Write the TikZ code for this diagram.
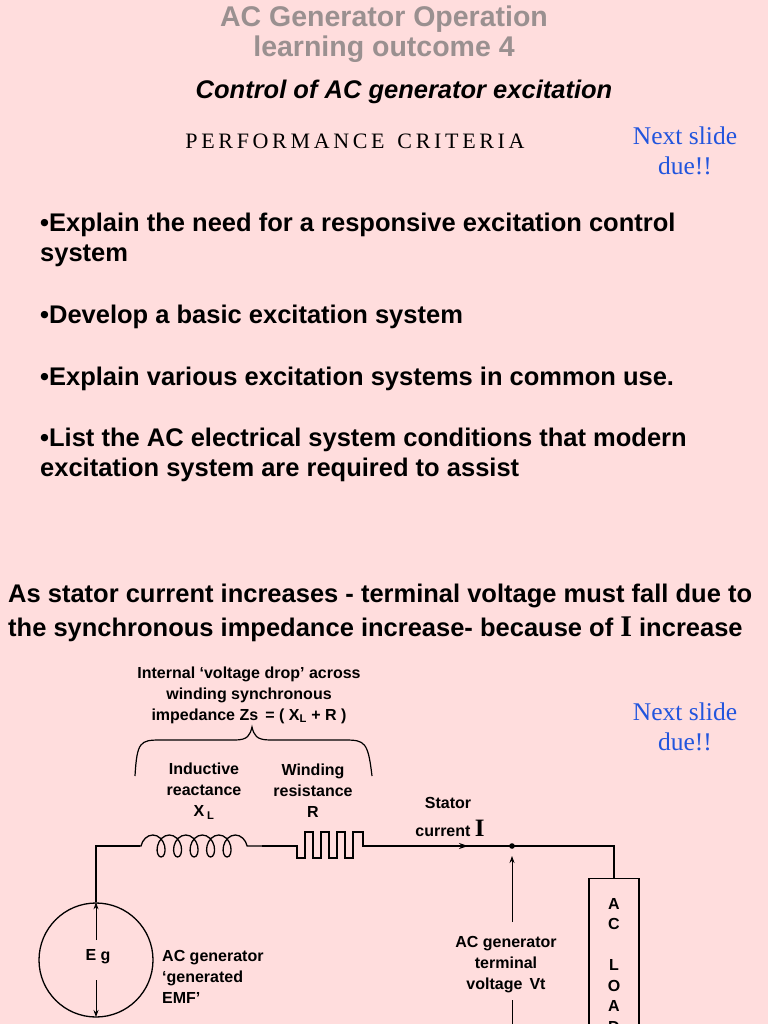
\documentclass[tikz,border=0pt]{standalone}
\usepackage{fontspec}
\setmainfont{Liberation Sans}
\newfontfamily\serif{Liberation Serif}
\usetikzlibrary{decorations.pathmorphing,arrows.meta}
\definecolor{bg}{HTML}{FFDDDD}
\definecolor{ttl}{HTML}{9A9090}
\definecolor{nblue}{HTML}{2255DD}
\begin{document}
\begin{tikzpicture}[x=1pt,y=-1pt,
  big/.style={font=\fontsize{25.5}{30}\selectfont\bfseries,anchor=west,inner sep=0},
  sm/.style={font=\fontsize{16}{21}\selectfont\bfseries,align=center,inner sep=0},
  nxt/.style={font=\serif\fontsize{25.5}{30}\selectfont,text=nblue,align=center,inner sep=0},
  wire/.style={line width=1.3pt},
  arr/.style={line width=0.8pt,-{Stealth[length=7pt,width=5pt]}}]
\fill[bg] (0,0) rectangle (768,1024);
\useasboundingbox (0,0) rectangle (768,1024);
\node[font=\fontsize{28.5}{30}\selectfont\bfseries,text=ttl,align=center,inner sep=0] (title) at (384,34) {AC Generator Operation\\learning outcome 4};
\node[font=\fontsize{25.5}{26}\selectfont\bfseries\itshape,inner sep=0] (ctl) at (404,92) {Control of AC generator excitation};
\node[font=\serif\fontsize{22}{24}\selectfont,inner sep=0] (pc) at (355,141) {P\,E\,R\,F\,O\,R\,M\,A\,N\,C\,E\, \,C\,R\,I\,T\,E\,R\,I\,A};
\node[nxt] (n1) at (685,151) {Next slide\\due!!};
\node[big,align=left] (b1) at (40,240) {•Explain the need for a responsive excitation control\\system};
\node[big] (b2) at (40,317) {•Develop a basic excitation system};
\node[big] (b3) at (40,379) {•Explain various excitation systems in common use.};
\node[big,align=left] (b4) at (40,455) {•List the AC electrical system conditions that modern\\excitation system are required to assist};
\node[big,align=left,font=\fontsize{25.5}{34}\selectfont\bfseries] (st) at (8,613) {As stator current increases - terminal voltage must fall due to\\the synchronous impedance increase- because of {\serif\fontsize{30}{30}\selectfont I} increase};
\node[nxt] (n2) at (685,727) {Next slide\\due!!};
% circuit labels
\node[sm] (int) at (249,695) {Internal ‘voltage drop’ across\\winding synchronous\\impedance Zs \,= ( X\textsubscript{L} + R )};
\draw[line width=1.2pt] (135,776) .. controls (137,742) and (140,740) .. (160,740) -- (235,740) .. controls (248,740) and (250,735) .. (252,727)
  .. controls (254,735) and (256,740) .. (270,740) -- (345,740) .. controls (365,740) and (368,742) .. (372,776);
\node[sm] (ind) at (204,791) {Inductive\\reactance\\X\,\textsubscript{L}};
\node[sm] (res) at (313,791) {Winding\\resistance\\R};
\node[sm] (sta) at (448,803) {Stator};
\node[sm,anchor=base] (cur) at (450,836) {current {\serif\fontsize{25}{24}\selectfont I}};
% wires
\coordinate (c1) at (96,846);
\coordinate (L1) at (140,846);
\coordinate (L2) at (262,846);
\coordinate (R1) at (295,846);
\coordinate (R2) at (365,846);
\coordinate (J) at (512,846);
\coordinate (c2) at (614,846);
\node[draw,line width=1.3pt,minimum width=50,minimum height=160,inner sep=0,anchor=north] (load) at (614,878) {};
\node[circle,draw,line width=1.3pt,minimum size=114,inner sep=0] (gen) at (96,960) {};
\draw[wire] (gen.north) -- (c1) -- (L1);
\draw[wire,decoration={coil,aspect=0.7,segment length=16.5pt,amplitude=11pt,pre length=1pt,post length=1pt},decorate] (L1) -- (L2);
\draw[wire] (L2) -- (R1) -- (297,846) -- (297,858) -- (305,858) -- (305,832) -- (313,832) -- (313,858) -- (321,858) -- (321,832) -- (329,832) -- (329,858) -- (337,858) -- (337,832) -- (345,832) -- (345,858) -- (353,858) -- (353,832) -- (363,832) -- (363,846) -- (R2) -- (J) -- (c2) -- (load.north);
\draw[line width=1pt,-{Stealth[length=9pt,width=6pt]}] (440,846) -- (468,846);
\fill (J) circle (2.8);
\foreach \t [count=\i] in {A,C,,L,O,A,D} {\node[sm] (ld\i) at (614,883+20.5*\i) {\t};}
% Vt
\node[sm] (vt) at (506,965) {AC generator\\terminal\\voltage \,Vt};
\coordinate (vtop) at (512,856);
\coordinate (vbot) at (512,1024);
\draw[arr] (512,922) -- (vtop);
\draw[line width=0.8pt] (512,1000) -- (vbot);
% Eg
\node[sm] (eg) at (98,957) {E g};
\coordinate (gb) at (96,1017);
\draw[arr] (96,940) -- (gen.north);
\draw[arr] (96,980) -- (gb);
\node[sm,align=left,anchor=west] (emf) at (162,977) {AC generator\\‘generated\\EMF’};
\end{tikzpicture}
\end{document}
